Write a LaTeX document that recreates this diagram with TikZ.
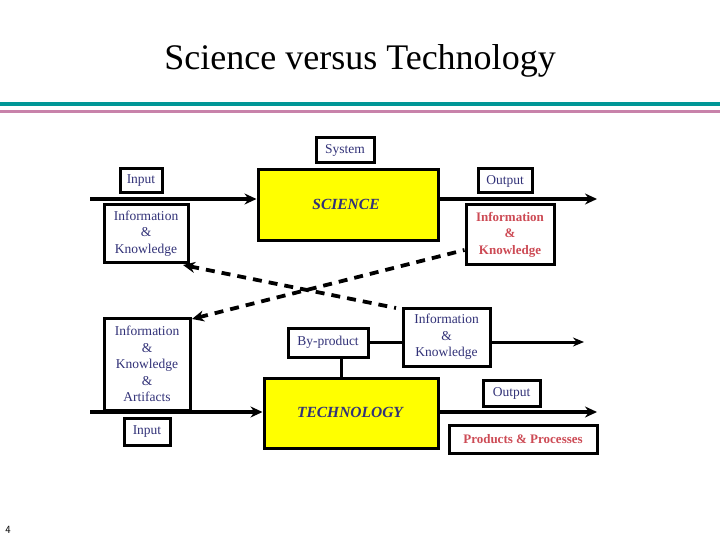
\documentclass[tikz,border=0pt]{standalone}
\usepackage{fontspec}
\setmainfont{Liberation Serif}
\usetikzlibrary{arrows.meta}
\definecolor{navy}{RGB}{50,50,120}
\definecolor{redt}{RGB}{205,75,85}
\definecolor{teal1}{RGB}{0,150,150}
\definecolor{pinkl}{RGB}{200,130,170}
\definecolor{yel}{RGB}{255,255,0}
\begin{document}
\begin{tikzpicture}[x=1pt,y=-1pt,
  bx/.style={draw,line width=3pt,fill=white,inner sep=0pt,align=center,font=\fontsize{13.5}{16.5}\selectfont,text=navy},
  big/.style={draw,line width=3pt,fill=yel,inner sep=0pt},
  bigt/.style={font=\fontsize{15.5}{17}\selectfont\bfseries\itshape,text=navy},
  flow/.style={line width=4.5pt,-{Stealth[length=12pt,width=11pt]}},
  thin/.style={line width=3pt},
  dsh/.style={line width=3.8pt,dash pattern=on 9pt off 7pt,{Stealth[length=12pt,width=11pt]}-}]
\useasboundingbox (0,0) rectangle (720,540);
\node[font=\fontsize{36}{40}\selectfont] (title) at (360,61) {Science versus Technology};
\draw[teal1,line width=4.5pt] (0,104) -- (720,104);
\draw[pinkl,line width=3pt] (0,112) -- (720,112);
\node[font=\sffamily\fontsize{11}{12}\selectfont] (num) at (8,530) {4};
% science
\node[big,minimum width=180pt,minimum height=70pt] (sci) at (348,205) {};
\node[bigt] (scit) at (346,204) {SCIENCE};
\node[bx,minimum width=58pt,minimum height=25pt] (sys) at (345,150.5) {System};
\node[bx,minimum width=42pt,minimum height=24pt] (in1) at (141,181) {Input};
\node[bx,minimum width=54pt,minimum height=24pt] (out1) at (505,181) {Output};
\coordinate (s0) at (90,199);
\coordinate (s1) at (597,199);
\draw[flow] (s0) -- (sci.west |- s0);
\draw[flow] (sci.east |- s1) -- (s1);
\node[bx,minimum width=84pt,minimum height=57pt] (ik1) at (146,233.5) {Information\\\&\\Knowledge};
\node[bx,minimum width=88pt,minimum height=59pt,text=redt,font=\fontsize{13}{16.5}\selectfont\bfseries] (ik2) at (510,234.5) {Information\\\&\\Knowledge};
% technology
\node[big,minimum width=174pt,minimum height=70pt] (tec) at (351,413) {};
\node[bigt] (tect) at (350,412) {TECHNOLOGY};
\node[bx,minimum width=86pt,minimum height=92pt] (ika) at (147,364) {Information\\\&\\Knowledge\\\&\\Artifacts};
\node[bx,minimum width=46pt,minimum height=27pt] (in2) at (147,431.5) {Input};
\node[bx,minimum width=80pt,minimum height=29pt] (bp) at (328,342.5) {By-product};
\node[bx,minimum width=87pt,minimum height=58pt] (ik3) at (446.5,337) {Information\\\&\\Knowledge};
\node[bx,minimum width=57pt,minimum height=26pt] (out2) at (511.5,393) {Output};
\node[bx,minimum width=148pt,minimum height=28pt,text=redt,font=\fontsize{13}{16}\selectfont\bfseries] (pp) at (523,439) {Products \& Processes};
\coordinate (t0) at (90,412);
\coordinate (t1) at (597,412);
\coordinate (t2) at (584,342);
\draw[flow] (t0) -- (tec.west |- t0);
\draw[flow] (tec.east |- t1) -- (t1);
\draw[thin] (bp.south -| 341,0) -- (tec.north -| 341,0);
\draw[thin] (bp.east) -- (ik3.west |- bp.east);
\draw[line width=3pt,-{Stealth[length=11pt,width=9pt]}] (ik3.east |- t2) -- (t2);
% dashed cross
\draw[dsh] (192,319) -- (ik2.west |- 0,250);
\draw[dsh] (183,265) -- (396,308);
\end{tikzpicture}
\end{document}
